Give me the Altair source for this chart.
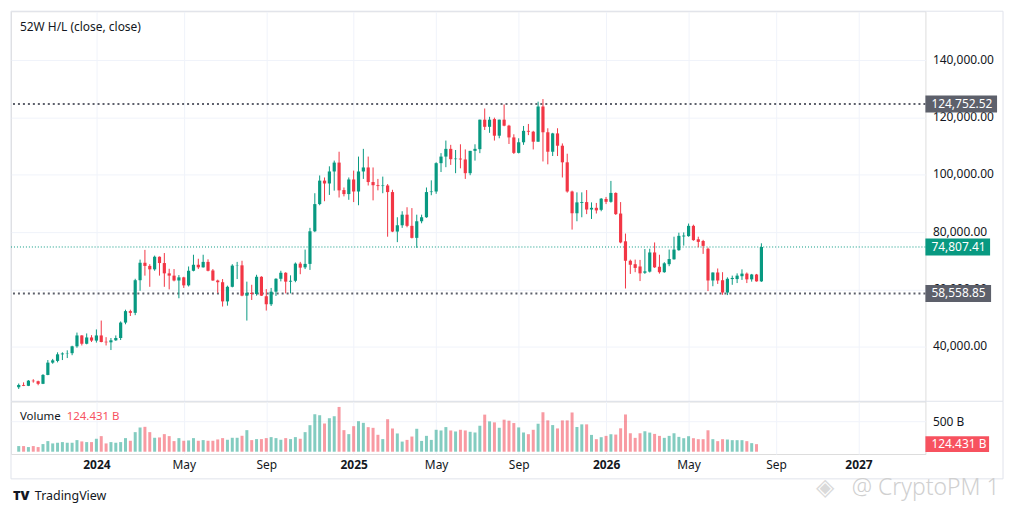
import altair as alt
import pandas as pd
import numpy as np

FONT = "Noto Sans"
UP = "#089981"
DOWN = "#f23645"
GRID = "#f0f3fa"
FRAME = "#e0e3eb"
TEXT = "#131722"
TAG_GREY = "#5d606b"

# ---------------- data (weekly candles, prices in thousands USD) ----------------
first_week = "2023-09-11"

opens_k = [
    25.8, 26.6, 26.3, 28.1, 27.9, 27.0, 30.1, 34.4, 35.0, 37.3,
    37.6, 37.7, 40.1, 43.9, 41.0, 43.2, 42.1, 43.9, 41.7, 41.5,
    42.2, 43.0, 48.4, 52.4, 51.8, 63.2, 69.3, 68.2, 67.0, 71.4,
    69.2, 65.6, 64.8, 63.1, 64.2, 61.4, 66.5, 68.6, 67.7, 69.6,
    66.6, 63.1, 62.5, 55.8, 60.9, 68.3, 68.4, 57.8, 58.8, 58.4,
    64.4, 57.6, 54.8, 59.2, 63.7, 65.8, 62.7, 63.0, 69.0, 67.7,
    68.9, 80.3, 89.8, 98.0, 97.0, 101.2, 104.3, 94.7, 93.3, 98.4,
    94.2, 101.2, 102.6, 97.5, 96.4, 96.1, 96.3, 94.0, 80.2, 82.4,
    86.1, 82.2, 78.0, 83.8, 85.2, 94.0, 94.2, 104.1, 106.4, 109.1,
    105.5, 105.7, 105.4, 100.6, 108.4, 109.0, 119.3, 116.8, 119.5, 113.7,
    119.3, 117.2, 113.1, 107.7, 111.4, 115.4, 115.1, 111.6, 123.9, 114.9,
    108.1, 114.5, 110.2, 104.4, 94.2, 86.6, 90.2, 90.5, 87.9, 88.5,
    87.8, 91.6, 90.6, 93.7, 86.5, 76.8, 70.0, 68.8, 68.0, 65.8,
    66.2, 72.9, 67.9, 66.0, 68.8, 70.5, 73.7, 78.5, 78.6, 82.2,
    77.5, 76.9, 74.2, 63.1, 65.9, 63.2, 58.9, 63.6, 63.6, 64.6,
    65.5, 63.5, 65.2, 62.8,
]
highs_k = [
    27.1, 27.5, 28.3, 28.6, 28.1, 30.4, 35.3, 35.7, 38.0, 38.0,
    38.7, 40.3, 44.9, 44.0, 44.6, 44.0, 46.0, 49.1, 43.3, 43.0,
    43.9, 48.8, 52.9, 52.9, 63.7, 70.4, 73.8, 68.8, 71.8, 71.5,
    72.7, 67.2, 67.1, 65.0, 64.4, 68.0, 72.1, 70.7, 72.1, 70.5,
    67.1, 63.4, 63.6, 61.3, 68.8, 69.6, 70.0, 62.7, 61.6, 65.1,
    64.6, 60.1, 60.5, 63.9, 66.5, 66.0, 64.9, 69.4, 69.6, 73.9,
    81.5, 93.6, 99.8, 99.1, 103.0, 105.0, 108.1, 95.6, 99.1, 101.5,
    106.4, 109.1, 106.4, 102.6, 98.6, 99.4, 96.8, 94.8, 85.2, 87.3,
    88.7, 88.4, 86.1, 86.1, 95.6, 98.1, 104.4, 107.6, 112.0, 110.5,
    108.7, 110.7, 108.9, 108.4, 110.7, 119.3, 123.2, 120.3, 120.0, 119.3,
    124.6, 117.5, 114.2, 112.8, 117.1, 117.8, 115.4, 125.6, 126.5, 116.3,
    114.7, 116.3, 111.0, 107.4, 94.5, 93.9, 93.9, 94.7, 90.4, 90.2,
    91.9, 92.3, 97.9, 93.9, 90.5, 79.5, 70.4, 70.4, 70.3, 74.1,
    74.2, 76.4, 72.1, 69.5, 73.9, 78.4, 79.8, 79.9, 83.0, 82.6,
    78.4, 77.3, 74.6, 65.9, 67.3, 66.0, 64.2, 64.8, 65.6, 67.0,
    65.9, 65.4, 65.4, 76.1,
]
lows_k = [
    25.2, 26.2, 26.2, 27.4, 26.5, 26.9, 30.0, 34.0, 34.5, 35.3,
    36.0, 37.0, 39.6, 40.4, 40.8, 41.6, 41.4, 41.5, 40.4, 38.8,
    42.0, 42.3, 47.8, 50.7, 51.0, 59.5, 64.8, 60.9, 66.5, 64.8,
    60.9, 60.0, 62.8, 56.9, 60.5, 61.0, 66.3, 67.1, 67.6, 66.3,
    63.0, 58.8, 54.0, 54.3, 60.7, 63.6, 57.6, 49.1, 56.3, 57.8,
    57.7, 52.6, 54.2, 57.7, 62.8, 58.6, 58.6, 62.5, 65.3, 67.1,
    66.8, 80.0, 89.4, 90.8, 93.0, 94.5, 92.1, 92.5, 91.3, 90.5,
    89.4, 98.6, 96.3, 91.1, 94.6, 93.6, 78.4, 80.0, 76.5, 81.5,
    81.7, 77.8, 74.5, 83.1, 85.0, 92.9, 93.4, 101.0, 102.7, 103.5,
    100.6, 102.3, 98.6, 99.9, 105.0, 107.6, 115.7, 114.7, 112.0, 112.8,
    117.0, 110.8, 107.3, 107.5, 110.5, 113.9, 108.9, 111.6, 104.7, 103.7,
    106.6, 106.6, 99.1, 93.8, 80.9, 83.8, 85.2, 86.3, 84.6, 86.5,
    87.3, 89.8, 90.3, 86.0, 76.1, 60.3, 65.4, 66.0, 62.9, 65.4,
    65.9, 67.5, 65.5, 65.8, 68.1, 70.4, 73.5, 75.3, 78.4, 77.0,
    74.7, 72.4, 59.4, 61.1, 61.9, 58.1, 58.0, 61.6, 62.2, 63.3,
    62.2, 62.7, 62.7, 62.6,
]
closes_k = [
    26.6, 26.3, 28.1, 27.9, 27.0, 30.1, 34.4, 35.2, 37.3, 37.6,
    37.7, 40.1, 43.9, 41.0, 43.2, 42.1, 43.9, 41.6, 41.5, 42.2,
    43.0, 48.4, 52.4, 51.8, 63.2, 69.3, 68.2, 67.0, 71.4, 69.2,
    65.6, 64.8, 63.1, 64.2, 61.4, 66.5, 68.6, 67.7, 69.6, 66.5,
    63.1, 62.5, 55.8, 60.9, 68.3, 68.4, 57.8, 58.8, 58.4, 64.4,
    57.8, 54.8, 59.2, 63.7, 65.8, 62.7, 63.0, 69.0, 67.6, 68.9,
    80.3, 89.8, 98.0, 97.0, 101.2, 104.3, 94.6, 93.3, 98.4, 94.2,
    101.2, 102.6, 97.5, 96.4, 96.1, 96.3, 94.0, 80.2, 82.4, 86.1,
    82.2, 78.0, 83.8, 85.2, 94.0, 94.2, 104.1, 106.4, 109.1, 105.5,
    105.7, 105.4, 100.6, 108.4, 109.1, 119.3, 116.8, 119.3, 113.7, 119.3,
    117.2, 113.1, 107.7, 111.4, 115.4, 115.1, 111.6, 123.9, 114.9, 108.1,
    114.5, 110.2, 104.4, 94.2, 86.6, 90.4, 90.5, 87.9, 88.5, 87.6,
    91.7, 90.6, 93.7, 86.3, 76.4, 70.0, 68.6, 67.5, 65.6, 66.3,
    72.9, 67.7, 66.0, 69.1, 70.6, 73.9, 78.7, 78.8, 82.2, 77.2,
    76.6, 75.2, 63.1, 65.9, 63.1, 58.9, 63.7, 64.0, 64.8, 65.5,
    63.5, 65.2, 62.8, 74.81,
]
# weekly volume, billions (last week has no volume bar)
volume_b = [
    92.9, 92.9, 76.5, 92.9, 76.5, 125.7, 174.8, 136.6, 147.5, 158.5,
    147.5, 147.5, 191.2, 169.4, 158.5, 158.5, 213.1, 256.8, 136.6, 158.5,
    147.5, 158.5, 224.0, 180.3, 322.4, 398.9, 409.8, 322.4, 229.5, 234.9,
    289.6, 256.8, 174.8, 224.0, 180.3, 185.8, 224.0, 180.3, 191.2, 180.3,
    180.3, 202.2, 224.0, 196.7, 229.5, 229.5, 262.3, 355.2, 191.2, 207.6,
    207.6, 224.0, 240.4, 224.0, 196.7, 224.0, 207.6, 240.4, 213.1, 322.4,
    437.1, 617.4, 601.0, 464.4, 551.9, 584.6, 737.6, 355.2, 289.6, 420.7,
    502.7, 475.4, 404.3, 393.4, 278.7, 207.6, 535.5, 382.5, 300.5, 166.7,
    194.4, 250.0, 377.8, 177.8, 261.1, 194.4, 361.1, 350.0, 405.6, 350.0,
    333.3, 361.1, 350.0, 327.8, 316.7, 427.8, 611.1, 500.0, 483.3, 394.4,
    527.8, 511.1, 472.2, 400.0, 316.7, 288.9, 361.1, 461.1, 650.0, 516.7,
    438.9, 383.3, 515.9, 515.9, 646.2, 407.3, 450.7, 450.7, 276.9, 206.3,
    238.9, 260.6, 287.8, 282.4, 385.5, 613.6, 304.1, 228.1, 304.1, 336.7,
    314.9, 293.2, 260.6, 228.1, 260.6, 304.1, 244.4, 222.6, 255.2, 222.6,
    206.3, 206.3, 353.0, 206.3, 173.8, 206.3, 200.9, 190.1, 190.1, 190.1,
    173.8, 141.2, 124.431, None,
]

high_52w = 124752.52
low_52w = 58558.85
last_close = 74807.41
last_volume_b = 124.431

tick_dates = ["2024-01-01", "2024-05-06", "2024-09-02", "2025-01-06", "2025-05-05",
              "2025-09-01", "2026-01-05", "2026-05-04", "2026-09-07", "2027-01-04"]
price_ticks = [40000, 60000, 80000, 100000, 120000, 140000]
volume_ticks = [500]

# ---------------- frame ----------------
n = len(opens_k)
dates = pd.date_range(first_week, periods=n, freq="7D", tz="UTC")
df = pd.DataFrame({
    "date": dates.strftime("%Y-%m-%dT%H:%M:%SZ"),
    "open": np.array(opens_k) * 1000,
    "high": np.array(highs_k) * 1000,
    "low": np.array(lows_k) * 1000,
    "close": np.array(closes_k) * 1000,
    "volume": volume_b,
})
df["dir"] = np.where(df["close"] >= df["open"], "up", "down")
vol_df = df.dropna(subset=["volume"])

# ---------------- layout ----------------
W = 919
H_PRICE = 392
H_VOL = 53
FRAME_R = 997
BAR_PX = 4.932
ppd = BAR_PX / 7.0
t0 = pd.Timestamp(first_week, tz="UTC") - pd.Timedelta(days=2.8 / ppd)
t1 = t0 + pd.Timedelta(days=W / ppd)


def ms(t):
    return int(t.value // 10**6)


x_scale = alt.Scale(type="utc", domain=[ms(t0), ms(t1)])
tick_ms = [ms(pd.Timestamp(d, tz="UTC")) for d in tick_dates]
y_scale = alt.Scale(domain=[20897, 157195], nice=False, zero=False)
v_scale = alt.Scale(domain=[-38, 831], nice=False, zero=False)

color = alt.Color("dir:N", scale=alt.Scale(domain=["up", "down"], range=[UP, DOWN]), legend=None)

x_axis_grid = alt.Axis(values=tick_ms, labels=False, ticks=False, domain=False, grid=True,
                       gridColor=GRID, title=None)
x_axis_bottom = alt.Axis(
    values=tick_ms, ticks=False, tickSize=0, domain=False, grid=True, gridColor=GRID, title=None,
    labelPadding=6, labelFont=FONT, labelFontSize=12, labelColor=TEXT, labelFlush=False,
    labelOverlap=False,
    labelExpr="utcmonth(datum.value) === 0 ? utcFormat(datum.value, '%Y') : utcFormat(datum.value, '%b')",
    labelFontWeight={"condition": {"test": "utcmonth(datum.value) === 0", "value": "bold"}, "value": "normal"},
)
y_axis = alt.Axis(orient="right", values=price_ticks, format=",.2f", ticks=False, domain=False,
                  grid=True, gridColor=GRID, title=None, labelPadding=7, labelFont=FONT,
                  labelFontSize=12, labelColor=TEXT, labelOffset=-1)
v_axis = alt.Axis(orient="right", values=volume_ticks, labelExpr="datum.value + ' B'", ticks=False,
                  domain=False, grid=True, gridColor=GRID, title=None, labelPadding=7,
                  labelFont=FONT, labelFontSize=12, labelColor=TEXT)

X = alt.X("date:T", scale=x_scale, axis=x_axis_grid)
Xb = alt.X("date:T", scale=x_scale, axis=x_axis_bottom)


def one(**kw):
    return pd.DataFrame({k: [v] for k, v in kw.items()})


def frame_rule(**enc):
    return alt.Chart(one(k=0)).mark_rule(color=FRAME, strokeWidth=1).encode(**enc)


# ---------------- price pane ----------------
wicks = alt.Chart(df).mark_rule(strokeWidth=1).encode(
    x=X, y=alt.Y("low:Q", scale=y_scale, axis=y_axis), y2="high:Q", color=color)
bodies = alt.Chart(df).mark_bar(size=3.2).encode(
    x=X, y=alt.Y("open:Q", scale=y_scale, axis=y_axis), y2="close:Q", color=color)

hl_lines = alt.Chart(pd.DataFrame({"price": [high_52w, low_52w]})).mark_rule(
    color=TAG_GREY, strokeWidth=2, strokeDash=[2, 3]).encode(
    y=alt.Y("price:Q", scale=y_scale, axis=y_axis))
last_line = alt.Chart(one(price=last_close)).mark_rule(
    color=UP, strokeWidth=1, strokeDash=[1, 2]).encode(
    y=alt.Y("price:Q", scale=y_scale, axis=y_axis))


def price_tag(value, bg, box_w):
    d = one(price=value, label=f"{value:,.2f}")
    box = alt.Chart(d).mark_rule(color=bg, strokeWidth=17, strokeCap="butt").encode(
        x=alt.value(W), x2=alt.value(W + box_w), y=alt.Y("price:Q", scale=y_scale, axis=y_axis))
    txt = alt.Chart(d).mark_text(align="left", baseline="middle", color="white", font=FONT,
                                 fontSize=12).encode(
        x=alt.value(W + 6), y=alt.Y("price:Q", scale=y_scale, axis=y_axis), text="label:N")
    return box + txt


title_txt = alt.Chart(one(t="52W H/L (close, close)")).mark_text(
    align="left", baseline="middle", font=FONT, fontSize=12, color=TEXT).encode(
    x=alt.value(9), y=alt.value(16), text="t:N")

price = alt.layer(
    frame_rule(x=alt.value(0), x2=alt.value(FRAME_R), y=alt.value(0)),
    frame_rule(x=alt.value(0), y=alt.value(0), y2=alt.value(H_PRICE)),
    frame_rule(x=alt.value(FRAME_R), y=alt.value(0), y2=alt.value(H_PRICE)),
    hl_lines, last_line, wicks, bodies,
    price_tag(high_52w, TAG_GREY, 72),
    price_tag(last_close, UP, 65),
    price_tag(low_52w, TAG_GREY, 66),
    title_txt,
).properties(width=W, height=H_PRICE)

# ---------------- volume pane ----------------
vol_bars = alt.Chart(vol_df).mark_bar(size=3, opacity=0.5).encode(
    x=Xb, y=alt.Y("volume:Q", scale=v_scale, axis=v_axis), color=color)

vd = one(v=last_volume_b, label=f"{last_volume_b:.3f} B")
vol_box = alt.Chart(vd).mark_rule(color="#f7525f", strokeWidth=16, strokeCap="butt").encode(
    x=alt.value(W), x2=alt.value(W + 64), y=alt.Y("v:Q", scale=v_scale, axis=v_axis))
vol_box_txt = alt.Chart(vd).mark_text(align="left", baseline="middle", color="white", font=FONT,
                                      fontSize=12).encode(
    x=alt.value(W + 6), y=alt.Y("v:Q", scale=v_scale, axis=v_axis), text="label:N")
vol_name = alt.Chart(one(t="Volume")).mark_text(
    align="left", baseline="middle", font=FONT, fontSize=11.5, color=TEXT).encode(
    x=alt.value(9), y=alt.value(15.5), text="t:N")
vol_value = alt.Chart(vd).mark_text(
    align="left", baseline="middle", font=FONT, fontSize=11.5, color="#f7525f").encode(
    x=alt.value(56), y=alt.value(15.5), text="label:N")

brand = alt.Chart(one(t="TradingView")).mark_text(
    align="left", baseline="middle", font=FONT, fontSize=12.5, color=TEXT).encode(
    x=alt.value(24), y=alt.value(95), text="t:N")
brand_logo = alt.Chart(one(t="TV")).mark_text(
    align="left", baseline="middle", font=FONT, fontSize=13, fontWeight=900, color=TEXT).encode(
    x=alt.value(2), y=alt.value(95), text="t:N")
watermark = alt.Chart(one(t="@ CryptoPM 1")).mark_text(
    align="left", baseline="middle", font=FONT, fontSize=23, fontWeight=300, color="#d0d0d0").encode(
    x=alt.value(845), y=alt.value(87), text="t:N")
watermark_icon = alt.Chart(one(t="◈")).mark_text(
    align="left", baseline="middle", font="DejaVu Sans", fontSize=24, color="#dadada").encode(
    x=alt.value(809), y=alt.value(87), text="t:N")

volume = alt.layer(
    frame_rule(x=alt.value(0), x2=alt.value(FRAME_R), y=alt.value(0)),
    frame_rule(x=alt.value(0), y=alt.value(0), y2=alt.value(78)),
    frame_rule(x=alt.value(FRAME_R), y=alt.value(0), y2=alt.value(78)),
    frame_rule(x=alt.value(0), x2=alt.value(FRAME_R), y=alt.value(78)),
    vol_bars, vol_box, vol_box_txt, vol_name, vol_value,
    brand, brand_logo, watermark, watermark_icon,
).properties(width=W, height=H_VOL)

chart = alt.vconcat(price, volume, spacing=0, bounds="flush").properties(
    padding={"left": 1, "top": 1, "right": 2, "bottom": 0}
).configure_view(stroke=None).configure(background="white")

chart.save("out.html", embed_options={"renderer": "svg", "actions": False})
